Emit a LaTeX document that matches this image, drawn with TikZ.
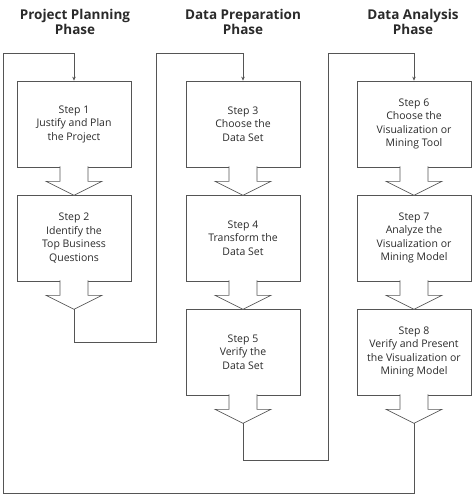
\documentclass[tikz,border=0pt]{standalone}
\usepackage{fontspec}
\setmainfont{Open Sans}
\usetikzlibrary{calc,arrows.meta}
\definecolor{ln}{HTML}{555555}
\definecolor{tx}{HTML}{2A2A2A}
\begin{document}
\begin{tikzpicture}[x=1pt,y=-1pt,
  stepbox/.style={draw=ln,line width=0.7pt,minimum width=114pt,minimum height=86pt,
    inner sep=0pt,align=center,text=tx,font=\fontsize{10.5}{13.5}\selectfont},
  title/.style={align=center,text=tx,font=\bfseries\fontsize{13.5}{15}\selectfont},
  bigarrow/.style={draw=ln,fill=white,line width=0.7pt,line join=miter},
  loop/.style={draw=ln,line width=0.7pt,-{Stealth[length=4pt,width=3.5pt]}}]
\useasboundingbox (0,0) rectangle (474,498);
\node[title] (h1) at (75,21.5) {Project Planning\\Phase};
\node[title] (h2) at (243,21.5) {Data Preparation\\Phase};
\node[title] (h3) at (413,21.5) {Data Analysis\\Phase};
\node[stepbox] (s1) at (74,124) {Step 1\\Justify and Plan\\the Project};
\node[stepbox] (s2) at (74,238) {Step 2\\Identify the\\Top Business\\Questions};
\node[stepbox] (s3) at (243,124) {Step 3\\Choose the\\Data Set};
\node[stepbox] (s4) at (243,238) {Step 4\\Transform the\\Data Set};
\node[stepbox] (s5) at (243,352) {Step 5\\Verify the\\Data Set};
\node[stepbox] (s6) at (414,124) {Step 6\\Choose the\\Visualization or\\Mining Tool};
\node[stepbox] (s7) at (414,238) {Step 7\\Analyze the\\Visualization or\\Mining Model};
\node[stepbox] (s8) at (414,352) {Step 8\\Verify and Present\\the Visualization or\\Mining Model};
\foreach \n in {1,2,3,4,5,6,7,8}{
  \coordinate (t\n) at ($(s\n.south)+(0,28)$);
  \path[bigarrow] ($(s\n.south)+(-14,-1)$) -- ++(0,15) -- ++(-14,0) -- (t\n)
     -- ($(s\n.south)+(28,14)$) -- ++(-14,0) -- ++(0,-15);
}
\coordinate (a1) at (3,53);
\coordinate (a2) at (3,493);
\coordinate (b1) at (156,53);
\coordinate (b2) at (156,342);
\coordinate (c1) at (328,53);
\coordinate (c2) at (328,460);
\draw[loop] (t8) |- (a2) -- (a1) -| (s1.north);
\draw[loop] (t2) |- (b2) -- (b1) -| (s3.north);
\draw[loop] (t5) |- (c2) -- (c1) -| (s6.north);
\end{tikzpicture}
\end{document}
